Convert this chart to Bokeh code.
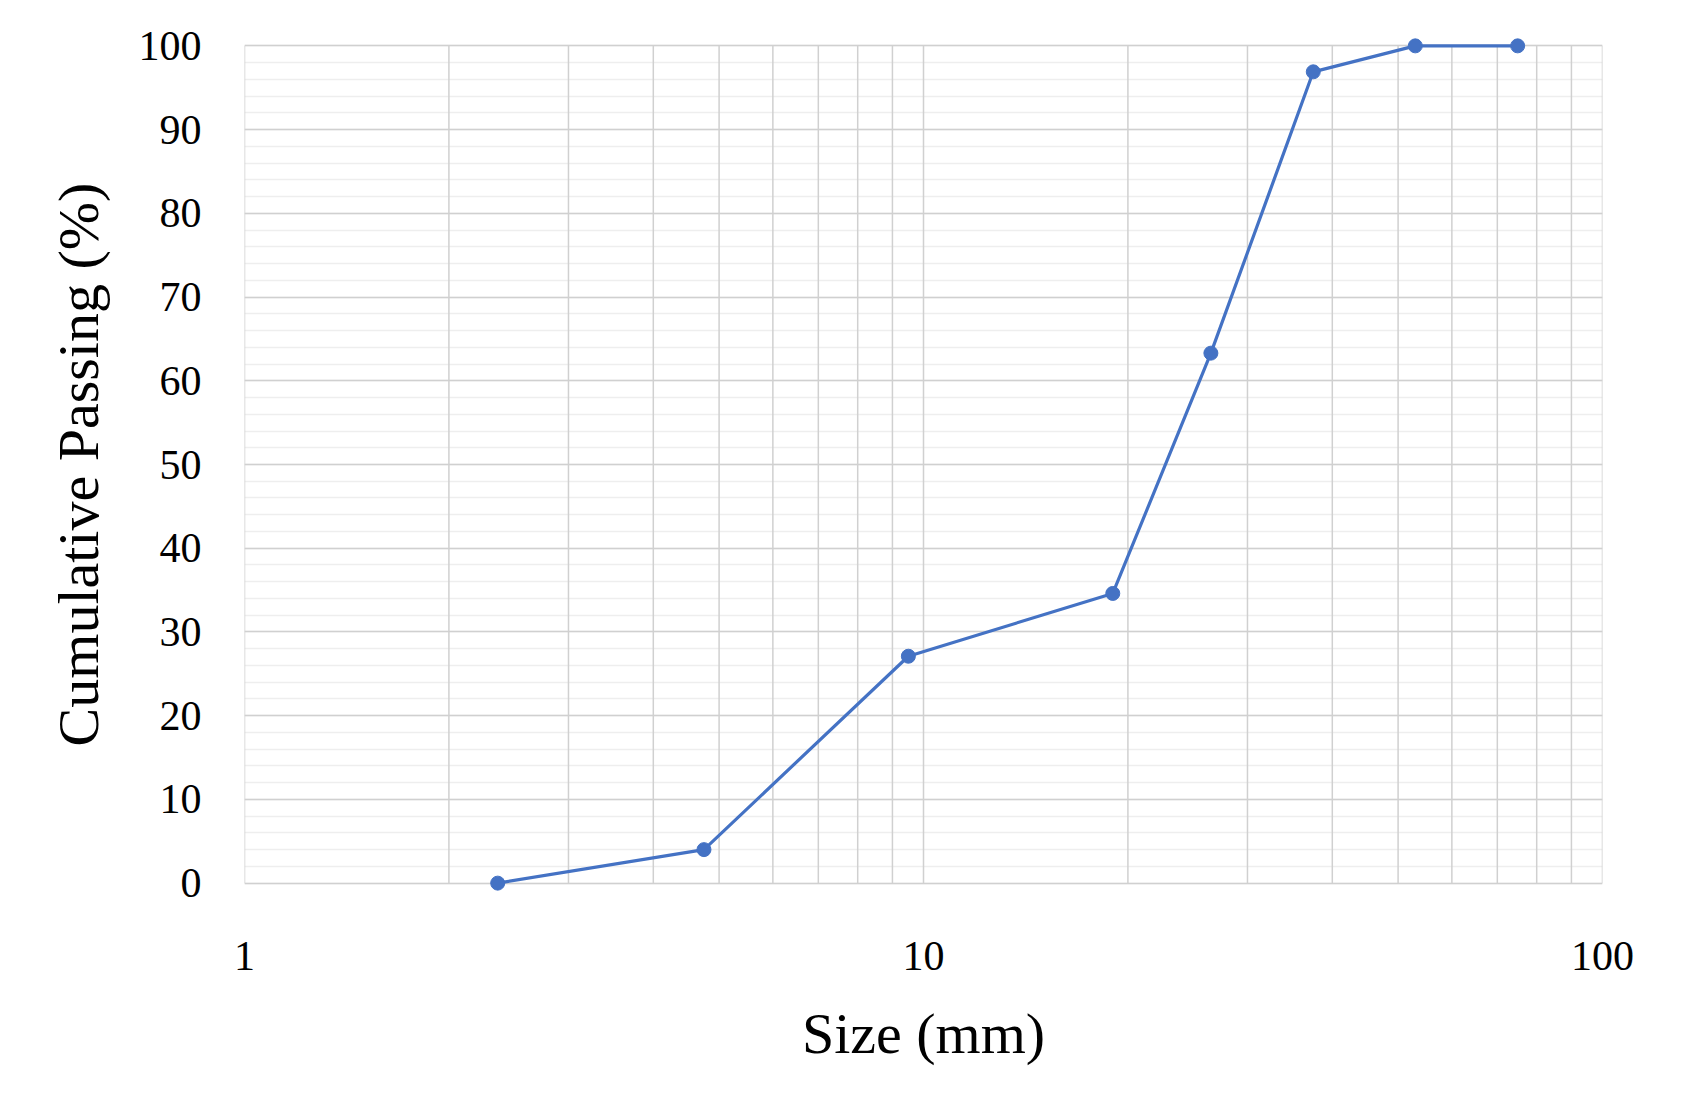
from bokeh.plotting import figure
from bokeh.models import Range1d, LogTicker, SingleIntervalTicker
from bokeh.embed import file_html
from bokeh.resources import INLINE

# Data: sieve size (mm) vs cumulative passing (%)
sizes_mm = [2.36, 4.75, 9.5, 19.0, 26.5, 37.5, 53.0, 75.0]
passing_pct = [0.0, 4.0, 27.1, 34.6, 63.3, 96.9, 100.0, 100.0]

x_ticks = [1, 10, 100]
y_ticks = [0, 10, 20, 30, 40, 50, 60, 70, 80, 90, 100]

FONT = "Liberation Serif"
BLUE = "#4472C4"
GRID = "#d0d0d0"
MINOR = "#eeeeee"

y_min, y_max = y_ticks[0], y_ticks[-1]
pad = 1.0  # leave room so markers at 0 / 100 are not cut by the frame

p = figure(width=1674, height=1100, x_axis_type="log",
           x_range=Range1d(x_ticks[0], x_ticks[-1]),
           y_range=Range1d(y_min - pad, y_max + pad),
           output_backend="svg", toolbar_location=None,
           min_border_left=244, min_border_right=72,
           min_border_top=37, min_border_bottom=209)

p.background_fill_color = "white"
p.border_fill_color = "white"
p.outline_line_color = None

# vertical log grid lines (1..9, 10..90, 100), limited to the 0..100 band
x_grid = [m * d for d in x_ticks[:-1] for m in range(1, 10)] + [x_ticks[-1]]
p.segment(x0=x_grid, y0=[y_min] * len(x_grid), x1=x_grid, y1=[y_max] * len(x_grid),
          line_color=GRID, line_width=1.5)

p.line(sizes_mm, passing_pct, line_color=BLUE, line_width=3.2)
p.scatter(sizes_mm, passing_pct, size=14, fill_color=BLUE, line_color=BLUE)

# X axis (log)
p.xaxis.ticker = LogTicker(num_minor_ticks=10)
p.xaxis.major_label_overrides = {1: "1", 10: "10", 100: "100"}
p.xaxis.axis_label = "Size (mm)"
# Y axis
p.yaxis.ticker = SingleIntervalTicker(interval=10, num_minor_ticks=5)
p.yaxis.axis_label = "Cumulative Passing (%)"

for ax in (p.xaxis, p.yaxis):
    ax.axis_line_color = None
    ax.major_tick_line_color = None
    ax.minor_tick_line_color = None
    ax.major_label_text_font = FONT
    ax.major_label_text_font_size = "42px"
    ax.major_label_text_color = "black"
    ax.axis_label_text_font = FONT
    ax.axis_label_text_font_size = "58px"
    ax.axis_label_text_font_style = "normal"
    ax.axis_label_text_color = "black"

p.xaxis.major_label_standoff = 44
p.xaxis.axis_label_standoff = 28
p.yaxis.major_label_standoff = 37
p.yaxis.axis_label_standoff = 25

p.xgrid.visible = False
p.ygrid.grid_line_color = GRID
p.ygrid.grid_line_width = 1.5
p.ygrid.minor_grid_line_color = MINOR
p.ygrid.minor_grid_line_width = 1.5

open("out.html", "w").write(file_html(p, INLINE))
